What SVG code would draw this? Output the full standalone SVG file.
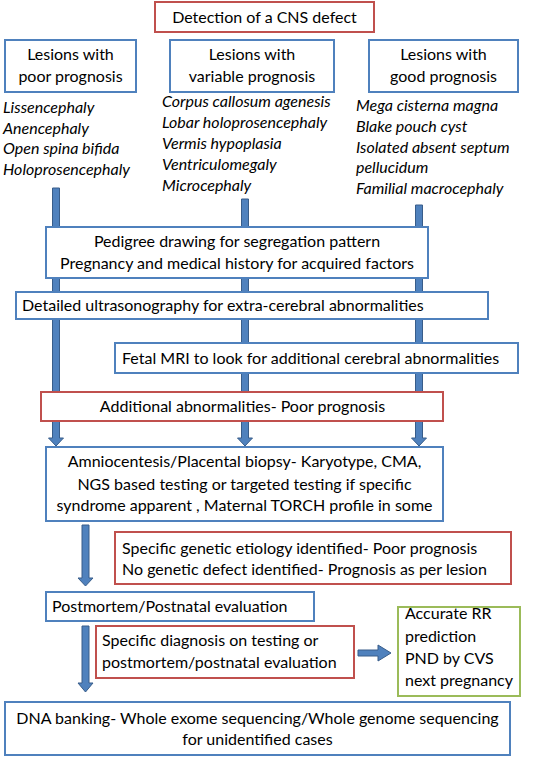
<svg xmlns="http://www.w3.org/2000/svg" width="560" height="758" viewBox="0 0 560 758">
<style>
text{font-family:Lato,"Open Sans","Liberation Sans",sans-serif;font-size:16px;fill:#000}
.it{font-style:italic}
.c{text-anchor:middle}
.b{fill:#fff;stroke:#4F81BD;stroke-width:2}
.r{fill:#fff;stroke:#C0504D;stroke-width:2}
.g{fill:#fff;stroke:#9BBB59;stroke-width:2}
.ar{fill:#4F81BD;stroke:#385D8A;stroke-width:1}
</style>
<rect width="560" height="758" fill="#fff"/>
<g id="connectors">
<polygon class="ar" points="52.5,188 59.5,188 59.5,438 63.5,438 56,446 48.5,438 52.5,438"/>
<polygon class="ar" points="241.5,199 248.5,199 248.5,438 252.5,438 245,446 237.5,438 241.5,438"/>
<polygon class="ar" points="415.5,205 422.5,205 422.5,438 426.5,438 419,446 411.5,438 415.5,438"/>
<polygon class="ar" points="82,525 89,525 89,578 93,578 85.5,586 78,578 82,578"/>
<polygon class="ar" points="82,626 89,626 89,683 93,683 85.5,692 78,683 82,683"/>
<polygon class="ar" points="358,650 378,650 378,645 391,653 378,661 378,656 358,656"/>
</g>
<g id="n-detect"><rect class="r" x="155" y="2" width="219" height="30"/><text class="c" x="264.5" y="23">Detection of a CNS defect</text></g>
<g id="n-poor"><rect class="b" x="5" y="40" width="131" height="52"/><text class="c" x="70.5" y="60">Lesions with</text><text class="c" x="70.5" y="82">poor prognosis</text></g>
<g id="n-variable"><rect class="b" x="170" y="40" width="164" height="52"/><text class="c" x="252" y="60">Lesions with</text><text class="c" x="252" y="82">variable prognosis</text></g>
<g id="n-good"><rect class="b" x="369" y="40" width="149" height="52"/><text class="c" x="443.5" y="60">Lesions with</text><text class="c" x="443.5" y="82">good prognosis</text></g>
<g id="list-poor"><text class="it" x="3" y="112.7">Lissencephaly</text><text class="it" x="3" y="133.5">Anencephaly</text><text class="it" x="3" y="154.3">Open spina bifida</text><text class="it" x="3" y="175.1">Holoprosencephaly</text></g>
<g id="list-variable"><text class="it" x="162" y="107.3">Corpus callosum agenesis</text><text class="it" x="162" y="128.3">Lobar holoprosencephaly</text><text class="it" x="162" y="149.2">Vermis hypoplasia</text><text class="it" x="162" y="170.1">Ventriculomegaly</text><text class="it" x="162" y="191">Microcephaly</text></g>
<g id="list-good"><text class="it" x="356" y="111">Mega cisterna magna</text><text class="it" x="356" y="131.8">Blake pouch cyst</text><text class="it" x="356" y="152.6">Isolated absent septum</text><text class="it" x="356" y="173.4">pellucidum</text><text class="it" x="356" y="194.2">Familial macrocephaly</text></g>
<g id="n-pedigree"><rect class="b" x="46" y="227" width="382" height="51"/><text class="c" x="237" y="247.3">Pedigree drawing for segregation pattern</text><text class="c" x="237" y="269">Pregnancy and medical history for acquired factors</text></g>
<g id="n-usg"><rect class="b" x="16" y="292" width="472" height="27"/><text x="22" y="310.7">Detailed ultrasonography for extra-cerebral abnormalities</text></g>
<g id="n-mri"><rect class="b" x="115" y="343" width="403" height="30"/><text x="122" y="364">Fetal MRI to look for additional cerebral abnormalities</text></g>
<g id="n-additional"><rect class="r" x="41" y="392" width="402" height="29"/><text class="c" x="242.5" y="412.3">Additional abnormalities- Poor prognosis</text></g>
<g id="n-amnio"><rect class="b" x="46" y="447" width="397" height="74"/><text class="c" x="244.5" y="467.3">Amniocentesis/Placental biopsy- Karyotype, CMA,</text><text class="c" x="244.5" y="490">NGS based testing or targeted testing if specific</text><text class="c" x="244.5" y="511">syndrome apparent , Maternal TORCH profile in some</text></g>
<g id="n-genetic"><rect class="r" x="115" y="532" width="396" height="52"/><text x="122" y="554">Specific genetic etiology identified- Poor prognosis</text><text x="122" y="575">No genetic defect identified- Prognosis as per lesion</text></g>
<g id="n-postmortem"><rect class="b" x="46" y="592" width="268" height="29"/><text x="52" y="611.7">Postmortem/Postnatal evaluation</text></g>
<g id="n-specific"><rect class="r" x="96" y="626" width="258" height="52"/><text x="102" y="646">Specific diagnosis on testing or</text><text x="102" y="667.7">postmortem/postnatal evaluation</text></g>
<g id="n-rr"><rect class="g" x="398" y="607" width="122" height="89"/><text x="405" y="619.3">Accurate RR</text><text x="405" y="641.7">prediction</text><text x="405" y="664.3">PND by CVS</text><text x="405" y="686">next pregnancy</text></g>
<g id="n-dna"><rect class="b" x="5" y="702" width="505" height="53"/><text class="c" x="257.5" y="724">DNA banking- Whole exome sequencing/Whole genome sequencing</text><text class="c" x="257.5" y="745">for unidentified cases</text></g>
</svg>
